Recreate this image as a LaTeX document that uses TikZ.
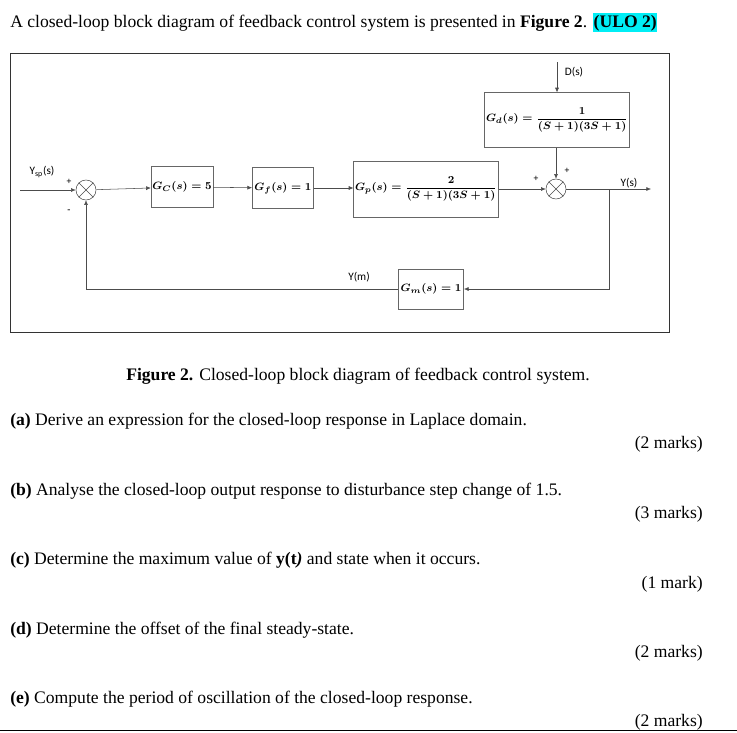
\documentclass[tikz,border=0pt]{standalone}
\usepackage{amsmath}
\usepackage{fontspec}
\setmainfont{Liberation Serif}
\newfontfamily\diagfont{Carlito}
\usetikzlibrary{arrows.meta,calc}
\definecolor{hilite}{RGB}{0,238,245}

\begin{document}
\begin{tikzpicture}[x=0.75pt,y=-0.75pt,
    block/.style={draw=black!60,inner sep=1pt,font=\fontsize{8.3}{9}\selectfont},
    sumnode/.style={draw=black!70,circle,minimum size=15pt,inner sep=0pt},
    lbl/.style={font=\diagfont\fontsize{8.5}{10}\selectfont,inner sep=0pt},
    sgn/.style={font=\fontsize{7}{8}\selectfont\bfseries,inner sep=0pt},
    txt/.style={anchor=base west,inner sep=0pt,font=\fontsize{13.2}{15}\selectfont},
    markstxt/.style={anchor=base east,inner sep=0pt,font=\fontsize{13.2}{15}\selectfont},
    sig/.style={draw=black!70,-{Latex[length=3.5pt,width=3pt]}},
    wire/.style={draw=black!70}]
    \useasboundingbox (0,0) rectangle (737,732);

    % heading
    \node[txt] (head) at (10,27) {A closed-loop block diagram of feedback control system is presented in \textbf{Figure 2}. \setlength{\fboxsep}{0.5pt}\textbf{\colorbox{hilite}{\rule[-3.5pt]{0pt}{13.5pt}(ULO 2)}}};

    % frame
    \draw[black!80] (10,53) rectangle (669,332);

    % junctions
    \node[sumnode] (sum1) at (86,190) {};
    \node[sumnode] (sum2) at (556,189) {};
    \foreach \s in {sum1,sum2}{
        \draw[black!70] (\s.north west) -- (\s.south east);
        \draw[black!70] (\s.north east) -- (\s.south west);
    }

    % blocks
    \node[block,minimum width=44pt,minimum height=31pt] (gc) at (182,187) {$\boldsymbol{G_C(s)=5}$};
    \node[block,minimum width=46pt,minimum height=31pt] (gf) at (283,188) {$\boldsymbol{G_f(s)=1}$};
    \node[block,minimum width=104pt,minimum height=42pt] (gp) at (426,189) {$\boldsymbol{G_p(s)=\dfrac{2}{(S+1)(3S+1)}}$};
    \node[block,minimum width=104pt,minimum height=41pt] (gd) at (557,120) {$\boldsymbol{G_d(s)=\dfrac{1}{(S+1)(3S+1)}}$};
    \node[block,minimum width=49pt,minimum height=30pt] (gm) at (431,289) {$\boldsymbol{G_m(s)=1}$};

    \coordinate (ysp) at (20,190);
    \coordinate (ds) at (557,62);
    \coordinate (yout) at (651,189);
    \coordinate (tap) at (609,189);
    \coordinate (fbr) at (609,289);
    \coordinate (fbl) at (86,289);

    % signals
    \path[sig] (ysp) -- (sum1);
    \path[sig] (sum1) -- (gc);
    \path[sig] (gc) -- (gf);
    \path[sig] (gf) -- (gp.west |- gf);
    \path[sig] (gp.east |- sum2) -- (sum2);
    \path[sig] (ds) -- (gd);
    \path[sig] (gd.south -| sum2) -- (sum2);
    \path[sig] (sum2) -- (yout);
    \path[sig] (tap) -- (fbr) -- (gm);
    \path[sig] (gm) -- (fbl) -- (sum1);

    % labels
    \node[lbl] (lysp) at (42,172) {Y\textsubscript{sp}(s)};
    \node[sgn] at (69,182) {+};
    \node[sgn] at (69,211) {-};
    \node[sgn] at (536,179) {+};
    \node[sgn] at (567,171) {+};
    \node[lbl] (lds) at (574,72) {D(s)};
    \node[lbl] (lys) at (629,183) {Y(s)};
    \node[lbl] (lym) at (359,277) {Y(m)};

    % caption and questions
    \node[txt] (cap) at (126,380) {\textbf{Figure 2.} Closed-loop block diagram of feedback control system.};
    \node[txt] (qa) at (10,425) {\textbf{(a)} Derive an expression for the closed-loop response in Laplace domain.};
    \node[markstxt] (ma) at (703,448) {(2 marks)};
    \node[txt] (qb) at (10,495) {\textbf{(b)} Analyse the closed-loop output response to disturbance step change of 1.5.};
    \node[markstxt] (mb) at (703,518) {(3 marks)};
    \node[txt] (qc) at (10,564) {\textbf{(c)} Determine the maximum value of \textbf{y(t\textit{)}} and state when it occurs.};
    \node[markstxt] (mc) at (703,588) {(1 mark)};
    \node[txt] (qd) at (10,634) {\textbf{(d)} Determine the offset of the final steady-state.};
    \node[markstxt] (md) at (703,657) {(2 marks)};
    \node[txt] (qe) at (10,703) {\textbf{(e)} Compute the period of oscillation of the closed-loop response.};
    \node[markstxt] (me) at (703,726) {(2 marks)};
    \draw[black] (0,730) -- (737,730);
\end{tikzpicture}
\end{document}
